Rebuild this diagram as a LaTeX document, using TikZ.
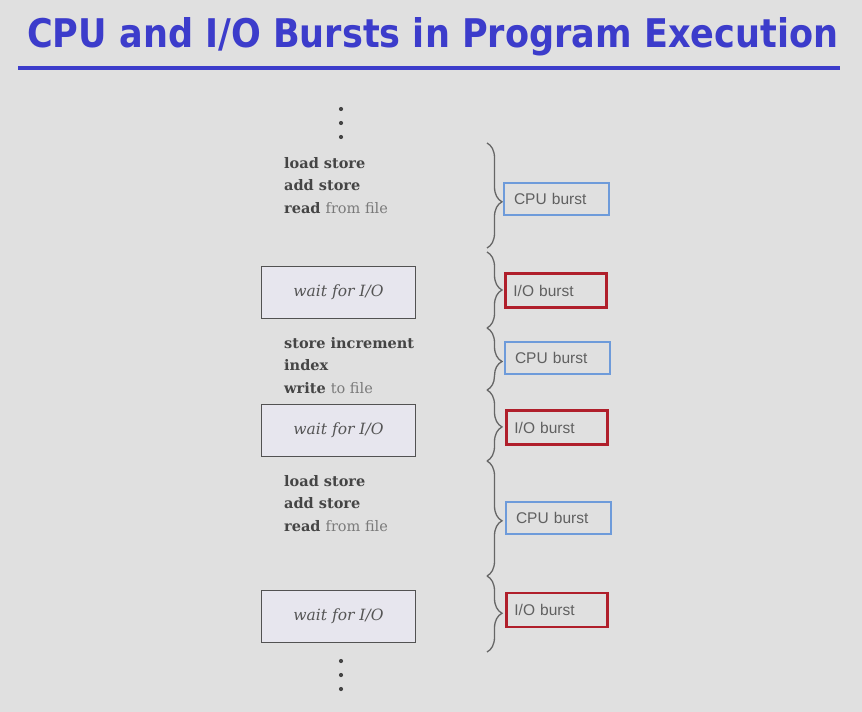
\documentclass[tikz,border=0pt]{standalone}
\usepackage{fontspec}
\setmainfont{DejaVu Serif}
\newfontfamily\titlefont{DejaVu Sans}
\newfontfamily\labfont{Liberation Sans}
\usetikzlibrary{decorations.pathreplacing}
\definecolor{bg}{HTML}{E0E0E0}
\definecolor{titleblue}{HTML}{3C3CCB}
\definecolor{cpublue}{HTML}{6E9BDA}
\definecolor{iored}{HTML}{B01F2B}
\definecolor{waitfill}{HTML}{E7E6EE}
\definecolor{darktxt}{HTML}{454545}
\definecolor{lighttxt}{HTML}{7A7A7A}
\definecolor{waittxt}{HTML}{555555}
\definecolor{labtxt}{HTML}{606060}
\definecolor{bracegray}{HTML}{666666}
\tikzset{
  codeline/.style={anchor=base west, inner sep=0pt, text=darktxt, font=\bfseries\fontsize{14.5}{18}\selectfont},
  waitbox/.style={draw=black!68, line width=1.8pt, fill=waitfill, minimum width=154pt, minimum height=52pt,
    text=waittxt, font=\fontsize{15.5}{18}\selectfont\itshape, inner sep=0pt},
  cpubox/.style={draw=cpublue, line width=2pt, anchor=west, minimum width=105pt, minimum height=32pt,
    text width=85pt, align=left, inner xsep=10pt, text=labtxt, font=\labfont\fontsize{15.5}{17}\selectfont},
  iobox/.style={draw=iored, line width=2.8pt, anchor=west, minimum width=101pt, minimum height=34pt,
    text width=85pt, align=left, inner xsep=8pt, text=labtxt, font=\labfont\fontsize{15.5}{17}\selectfont},
  bracestyle/.style={draw=bracegray, line width=1.3pt, decorate, decoration={brace, amplitude=15pt}},
  dotnode/.style={circle, fill=darktxt, inner sep=0pt, minimum size=4.2pt}
}
\begin{document}
\begin{tikzpicture}[x=1pt,y=-1pt]
\fill[bg] (0,0) rectangle (862,712);
\useasboundingbox (0,0) rectangle (862,712);

% title
\node[anchor=base west, inner sep=0pt, text=titleblue, font=\titlefont\bfseries\fontsize{36}{40}\selectfont] (title) at (27,47)
  {\resizebox{811pt}{30pt}{CPU and I/O Bursts in Program Execution}};
\coordinate (ulL) at (18,68);
\coordinate (ulR) at (840,68);
\draw[titleblue, line width=3.6pt] (ulL) -- (ulR);

% dots
\node[dotnode] (d1) at (341,109) {};
\node[dotnode] (d2) at (341,123) {};
\node[dotnode] (d3) at (341,137) {};
\node[dotnode] (d4) at (341,661) {};
\node[dotnode] (d5) at (341,675) {};
\node[dotnode] (d6) at (341,689) {};

% code block 1
\node[codeline] (l1) at (284,168) {load store};
\node[codeline] (l2) at (284,190.5) {add store};
\node[codeline] (l3) at (284,213) {read \textcolor{lighttxt}{\mdseries from file}};
% wait 1
\node[waitbox] (w1) at (338.5,292.5) {wait for I/O};
% code block 2
\node[codeline] (l4) at (284,348) {store increment};
\node[codeline] (l5) at (284,370.5) {index};
\node[codeline] (l6) at (284,393) {write \textcolor{lighttxt}{\mdseries to file}};
% wait 2
\node[waitbox] (w2) at (338.5,430.5) {wait for I/O};
% code block 3
\node[codeline] (l7) at (284,486) {load store};
\node[codeline] (l8) at (284,508.5) {add store};
\node[codeline] (l9) at (284,531) {read \textcolor{lighttxt}{\mdseries from file}};
% wait 3
\node[waitbox] (w3) at (338.5,616.5) {wait for I/O};

% braces
\coordinate (b1t) at (487,143); \coordinate (b1b) at (487,248);
\coordinate (b2t) at (487,252); \coordinate (b2b) at (487,328);
\coordinate (b3t) at (487,328); \coordinate (b3b) at (487,390);
\coordinate (b4t) at (487,390); \coordinate (b4b) at (487,461);
\coordinate (b5t) at (487,461); \coordinate (b5b) at (487,576);
\coordinate (b6t) at (487,576); \coordinate (b6b) at (487,652);
\draw[bracestyle, decoration={aspect=0.56}] (b1t) -- (b1b);
\draw[bracestyle] (b2t) -- (b2b);
\draw[bracestyle, decoration={aspect=0.54}] (b3t) -- (b3b);
\draw[bracestyle, decoration={aspect=0.52}] (b4t) -- (b4b);
\draw[bracestyle, decoration={aspect=0.52}] (b5t) -- (b5b);
\draw[bracestyle, decoration={aspect=0.49}] (b6t) -- (b6b);

% burst boxes
\node[cpubox] (c1) at (503,199) {CPU burst};
\node[iobox] (i1) at (504,290.5) {I/O burst};
\node[cpubox] (c2) at (504,358) {CPU burst};
\node[iobox] (i2) at (505,427.5) {I/O burst};
\node[cpubox] (c3) at (505,517.5) {CPU burst};
\node[iobox] (i3) at (505,610) {I/O burst};
\end{tikzpicture}
\end{document}
